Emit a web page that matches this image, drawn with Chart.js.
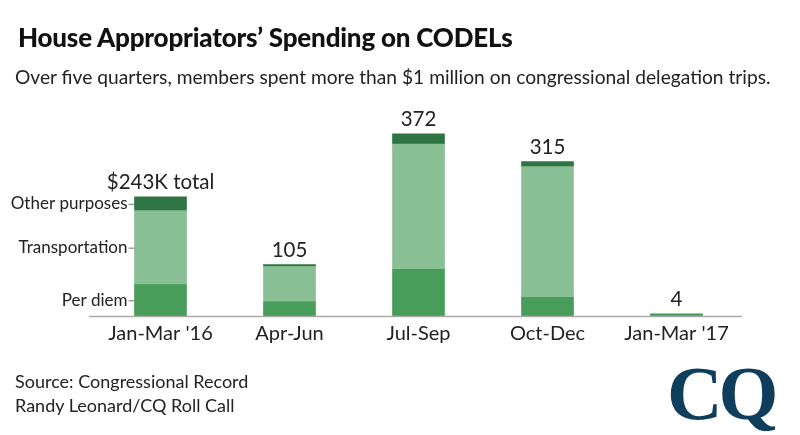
<!DOCTYPE html>
<html>
<head>
<meta charset="utf-8">
<script src="https://cdn.jsdelivr.net/npm/chart.js@4"></script>
<style>
  html, body { margin: 0; padding: 0; background: #fff; }
  #wrap { position: relative; width: 800px; height: 435px; overflow: hidden; font-family: Lato, sans-serif; color: #222; }
  #chart { position: absolute; left: 0; top: 0; }
  .title { position: absolute; left: 18px; top: 21px; font-size: 26px; font-weight: 900; color: #111; letter-spacing: -0.2px; }
  .sub { position: absolute; left: 15px; top: 65px; font-size: 19.2px; }
  .foot { position: absolute; left: 15px; font-size: 18px; }
  .logo { position: absolute; left: 667px; top: 349px; font-family: "Liberation Serif", serif; font-weight: bold; font-size: 77px; color: #0f3e5c; letter-spacing: -4px; }
</style>
</head>
<body>
<div id="wrap">
  <canvas id="chart" width="800" height="435"></canvas>
  <div class="title">House Appropriators’ Spending on CODELs</div>
  <div class="sub">Over five quarters, members spent more than $1 million on congressional delegation trips.</div>
  <div class="foot" style="top:370px">Source: Congressional Record</div>
  <div class="foot" style="top:394px">Randy Leonard/CQ Roll Call</div>
  <div class="logo">CQ</div>
</div>
<script>
// thousands of dollars per quarter
const quarters = ['Jan-Mar \'16', 'Apr-Jun', 'Jul-Sep', 'Oct-Dec', 'Jan-Mar \'17'];
const perDiem = [64, 29, 95, 38, 4];
const transportation = [151, 72, 256, 267, 0];
const otherPurposes = [28, 4, 21, 10, 0];
const totalLabels = ['$243K total', '105', '372', '315', '4'];
const seriesNames = ['Per diem', 'Transportation', 'Other purposes'];

// labels above bars, series names to the left of the first bar, baseline
const annotate = {
  id: 'annotate',
  afterDatasetsDraw(chart) {
    const ctx = chart.ctx;
    const area = chart.chartArea;
    const y = chart.scales.y;
    ctx.save();

    ctx.strokeStyle = '#aaa';
    ctx.lineWidth = 1.5;
    ctx.beginPath();
    ctx.moveTo(area.left - 7, area.bottom + 0.5);
    ctx.lineTo(area.right + 1, area.bottom + 0.5);
    ctx.stroke();

    ctx.fillStyle = '#222';
    ctx.font = '20.5px Lato';
    ctx.textAlign = 'center';
    ctx.textBaseline = 'alphabetic';
    const bars = chart.getDatasetMeta(0).data;
    quarters.forEach((q, i) => {
      const total = perDiem[i] + transportation[i] + otherPurposes[i];
      ctx.fillText(totalLabels[i], bars[i].x, y.getPixelForValue(total) - 8);
    });

    ctx.font = '17px Lato';
    ctx.textAlign = 'right';
    ctx.textBaseline = 'middle';
    ctx.strokeStyle = '#777';
    ctx.lineWidth = 1;
    chart.data.datasets.forEach((ds, d) => {
      const el = chart.getDatasetMeta(d).data[0];
      const left = el.x - el.width / 2;
      const mid = (el.y + el.base) / 2;
      ctx.beginPath();
      ctx.moveTo(left - 6, mid + 0.5);
      ctx.lineTo(left, mid + 0.5);
      ctx.stroke();
      ctx.fillText(ds.label, left - 7, mid);
    });
    ctx.restore();
  }
};

new Chart(document.getElementById('chart'), {
  type: 'bar',
  data: {
    labels: quarters,
    datasets: [
      { label: seriesNames[0], data: perDiem, backgroundColor: '#479d59' },
      { label: seriesNames[1], data: transportation, backgroundColor: '#88bf95' },
      { label: seriesNames[2], data: otherPurposes, backgroundColor: '#2f7543' }
    ]
  },
  options: {
    responsive: false,
    animation: false,
    layout: { padding: { left: 96, right: 59, top: 120, bottom: 79 } },
    datasets: { bar: { barThickness: 52 } },
    plugins: { legend: { display: false }, tooltip: { enabled: false } },
    scales: {
      x: {
        stacked: true,
        grid: { display: false },
        border: { display: false },
        ticks: { color: '#222', font: { family: 'Lato', size: 20 }, padding: -2 },
        afterFit: s => { s.height = 40; }
      },
      y: { stacked: true, display: false, min: 0, max: 400 }
    }
  },
  plugins: [annotate]
});
</script>
</body>
</html>
